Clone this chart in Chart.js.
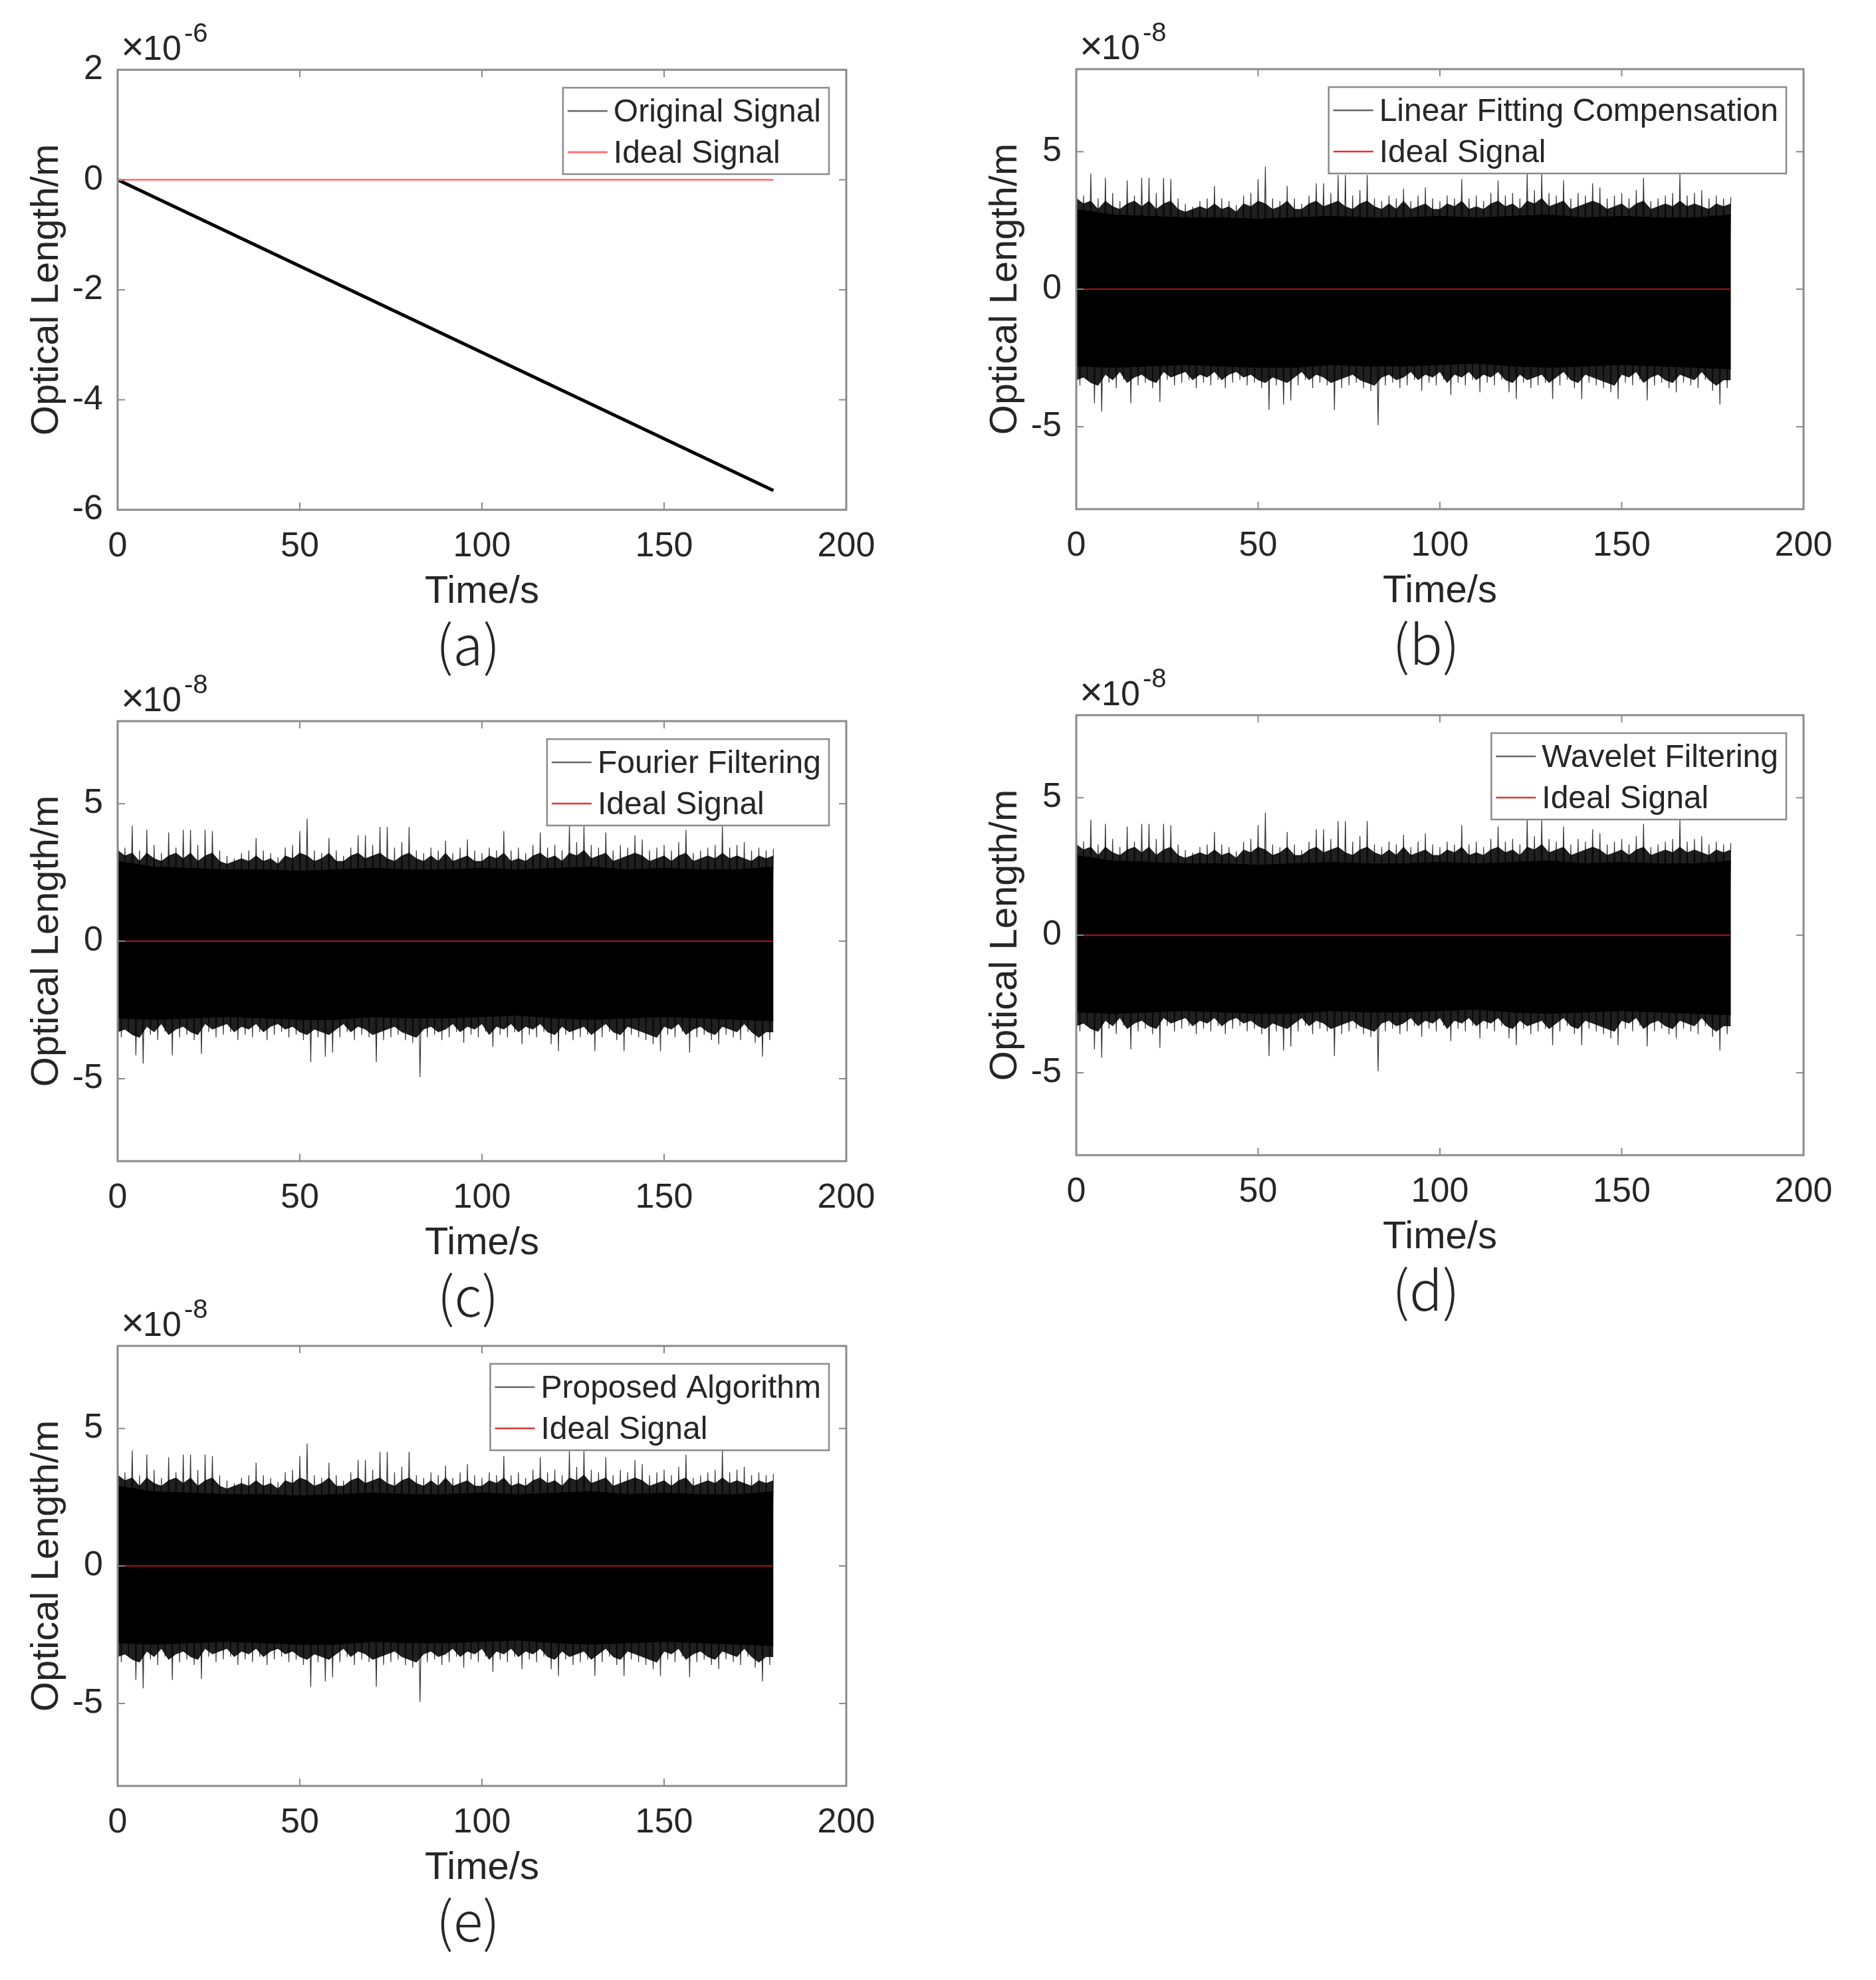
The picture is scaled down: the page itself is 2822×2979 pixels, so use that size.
<!DOCTYPE html>
<html>
<head>
<meta charset="utf-8">
<title>Optical length compensation</title>
<script src="https://cdn.jsdelivr.net/npm/chart.js@4.4.0/dist/chart.umd.min.js"></script>
<style>
  html, body { margin: 0; padding: 0; background: #fff; }
  #page { position: relative; width: 2822px; height: 2979px; overflow: hidden; background: #fff; }
  .cell { position: absolute; }
  .cell canvas { display: block; }
</style>
</head>
<body>
<div id="page"></div>
<script>
// ---- data ----
const timeTicks = [0, 50, 100, 150, 200];
const ticksOriginal = [-6, -4, -2, 0, 2];   // x1e-6 m
const ticksNoise = [-5, 0, 5];               // x1e-8 m

const panelLetters = ["(a)", "(b)", "(c)", "(d)", "(e)"];
const methodNames = [
  "Original Signal",
  "Linear Fitting Compensation",
  "Fourier Filtering",
  "Wavelet Filtering",
  "Proposed Algorithm",
];
const idealName = "Ideal Signal";
const exponents = ["-6", "-8", "-8", "-8", "-8"];

// (a) drift of the raw signal, x1e-6 m
const originalTime = [0, 180];
const originalValue = [0, -5.65];
const idealTime = [0, 180];
const idealValue = [0, 0];

// residual noise, x1e-8 m (same in b..e)
// upper extremes at even seconds 0..180
const noisePeaks = [
  4.2, 3.4, 4.2, 3.3, 4.05, 3.5, 3.2, 3.95, 3.4, 4.05,
  4.05, 3.5, 4.05, 4.0, 3.3, 3.1, 3.0, 3.2, 3.3, 3.75,
  3.3, 3.2, 3.05, 3.4, 3.5, 4.0, 4.45, 3.3, 3.2, 3.75,
  3.3, 3.1, 3.4, 3.85, 3.85, 3.5, 4.15, 4.15, 3.4, 3.6,
  4.15, 3.3, 3.2, 3.4, 3.3, 3.65, 3.2, 3.4, 3.7, 3.3,
  3.2, 3.4, 3.3, 4.0, 3.3, 3.4, 3.2, 3.5, 3.95, 3.4,
  3.5, 3.3, 4.2, 3.6, 4.2, 3.5, 3.4, 3.95, 3.3, 3.5,
  3.4, 3.85, 3.7, 3.3, 3.4, 3.5, 3.3, 3.6, 4.05, 3.2,
  3.3, 3.4, 3.5, 4.2, 3.4, 3.5, 3.6, 3.3, 3.4, 3.3,
  3.35,
];
// lower extremes at odd seconds 1..179
const noiseTroughs = [
  -3.5, -3.3, -4.15, -4.45, -3.4, -3.6, -3.3, -4.15, -3.5, -3.4,
  -3.6, -4.1, -3.3, -3.5, -3.4, -3.3, -3.6, -3.4, -3.5, -3.3,
  -3.6, -3.4, -3.3, -3.5, -3.4, -3.6, -4.4, -3.5, -4.2, -4.05,
  -3.5, -3.3, -3.6, -3.4, -3.5, -4.4, -3.6, -3.5, -3.4, -3.6,
  -3.7, -4.95, -3.5, -3.4, -3.6, -3.5, -3.3, -3.7, -3.4, -3.5,
  -3.3, -3.85, -3.4, -3.5, -3.3, -3.75, -3.4, -3.5, -3.3, -3.75,
  -4.0, -3.4, -3.6, -3.5, -3.4, -4.0, -3.5, -3.3, -3.6, -4.0,
  -3.4, -3.5, -3.6, -3.75, -4.0, -3.4, -3.5, -3.3, -4.05, -3.5,
  -3.4, -3.6, -3.75, -3.4, -3.5, -3.6, -3.3, -3.7, -4.2, -3.6,
];
// dense fringe of the band, even seconds 0..180
const fringeTop = [
  3.3, 3.1, 3.2, 2.9, 3.2, 3.0, 2.9, 3.1, 3.2, 3.0,
  3.2, 2.9, 3.1, 3.2, 2.9, 2.8, 2.9, 3.0, 2.9, 3.1,
  2.9, 3.0, 2.8, 3.1, 3.0, 3.2, 3.1, 2.9, 3.0, 3.2,
  2.9, 2.9, 3.1, 3.2, 3.0, 3.1, 3.2, 3.0, 2.9, 3.1,
  3.2, 3.0, 2.9, 3.1, 2.9, 3.2, 2.9, 3.0, 3.1, 2.9,
  2.9, 3.1, 3.0, 3.2, 2.9, 3.0, 2.9, 3.1, 3.2, 3.0,
  3.1, 2.9, 3.2, 3.1, 3.3, 3.0, 3.1, 3.2, 2.9, 3.0,
  3.1, 3.2, 3.1, 2.9, 3.0, 3.1, 2.9, 3.1, 3.2, 2.9,
  3.0, 3.1, 3.0, 3.2, 3.0, 3.1, 3.0, 2.9, 3.1, 3.0,
  3.1,
];
const fringeBottom = [
  -3.3, -3.2, -3.4, -3.5, -3.1, -3.3, -3.0, -3.4, -3.2, -3.1,
  -3.3, -3.4, -3.0, -3.2, -3.1, -3.0, -3.3, -3.1, -3.2, -3.0,
  -3.3, -3.1, -3.0, -3.2, -3.1, -3.3, -3.4, -3.2, -3.3, -3.4,
  -3.2, -3.0, -3.3, -3.1, -3.2, -3.4, -3.3, -3.2, -3.1, -3.3,
  -3.4, -3.5, -3.2, -3.1, -3.3, -3.2, -3.0, -3.3, -3.1, -3.2,
  -3.0, -3.4, -3.1, -3.2, -3.0, -3.3, -3.1, -3.2, -3.0, -3.3,
  -3.4, -3.1, -3.3, -3.2, -3.1, -3.4, -3.2, -3.0, -3.3, -3.4,
  -3.1, -3.2, -3.3, -3.4, -3.5, -3.1, -3.2, -3.0, -3.4, -3.2,
  -3.1, -3.3, -3.4, -3.1, -3.2, -3.3, -3.0, -3.3, -3.5, -3.3,
  -3.3,
];
// solid black core of the noise band
const coreTime = [0, 10, 20, 30, 40, 50, 60, 70, 80, 90, 100, 110, 120, 130, 140, 150, 160, 170, 180];
const coreTop = [2.9, 2.7, 2.65, 2.6, 2.6, 2.55, 2.6, 2.65, 2.6, 2.6, 2.65, 2.6, 2.65, 2.7, 2.6, 2.65, 2.6, 2.6, 2.7];
const coreBottom = [-2.8, -2.85, -2.8, -2.75, -2.8, -2.85, -2.85, -2.75, -2.8, -2.8, -2.75, -2.7, -2.8, -2.85, -2.8, -2.75, -2.8, -2.85, -2.9];

// ---- layout ----
const FONT = '"Liberation Sans", Arial, Helvetica, sans-serif';
const LABEL_FONT = '"Noto Sans CJK SC", "Noto Sans", sans-serif';
const TEXT = "#262626";
const AXIS_GRAY = "#8a8a8a";
const Y_AXIS_W = 150;
const X_AXIS_H = 159;
const TICK_LEN = 11;

const panels = [
  { plot: { l: 177, t: 105, r: 1273, b: 767 }, cell: { x: 0, y: 0, w: 1411, h: 1030 } },
  { plot: { l: 1619, t: 104, r: 2713, b: 766 }, cell: { x: 1411, y: 0, w: 1411, h: 1030 } },
  { plot: { l: 177, t: 1085, r: 1273, b: 1747 }, cell: { x: 0, y: 990, w: 1411, h: 1010 } },
  { plot: { l: 1619, t: 1076, r: 2713, b: 1738 }, cell: { x: 1411, y: 990, w: 1411, h: 1010 } },
  { plot: { l: 177, t: 2025, r: 1273, b: 2687 }, cell: { x: 0, y: 1940, w: 1411, h: 1039 } },
];

function pairs(xs, ys) {
  return xs.map((x, i) => ({ x: x, y: ys[i] }));
}

// the fringe arrays are sampled every 2 s
function evenSeconds(ys) {
  return ys.map((y, i) => ({ x: 2 * i, y: y }));
}

// zig-zag through the read extremes, peak at 2i, trough at 2i+1
function noiseTrace() {
  const pts = [];
  noisePeaks.forEach((v, i) => {
    pts.push({ x: 2 * i, y: v });
    if (i < noiseTroughs.length) pts.push({ x: 2 * i + 1, y: noiseTroughs[i] });
  });
  return pts;
}

// box with inward ticks on all sides, like matlab
const matlabBox = {
  id: "matlabBox",
  afterDatasetsDraw(chart) {
    const { ctx, chartArea: a, scales } = chart;
    ctx.save();
    ctx.strokeStyle = AXIS_GRAY;
    ctx.lineWidth = 2;
    ctx.beginPath();
    scales.x.ticks.forEach((t) => {
      const px = scales.x.getPixelForValue(t.value);
      ctx.moveTo(px, a.bottom);
      ctx.lineTo(px, a.bottom - TICK_LEN);
      ctx.moveTo(px, a.top);
      ctx.lineTo(px, a.top + TICK_LEN);
    });
    scales.y.ticks.forEach((t) => {
      const py = scales.y.getPixelForValue(t.value);
      ctx.moveTo(a.left, py);
      ctx.lineTo(a.left + TICK_LEN, py);
      ctx.moveTo(a.right, py);
      ctx.lineTo(a.right - TICK_LEN, py);
    });
    ctx.stroke();
    ctx.lineWidth = 3;
    ctx.strokeRect(a.left, a.top, a.right - a.left, a.bottom - a.top);
    ctx.restore();
  },
};

// legend in a box at the top right of the axes
const boxLegend = {
  id: "boxLegend",
  afterDraw(chart, args, opts) {
    const { ctx, chartArea: a } = chart;
    ctx.save();
    ctx.font = "48px " + FONT;
    const textW = Math.max(...opts.items.map((it) => ctx.measureText(it.text).width));
    const w = 76 + textW + 12;
    const h = 130;
    const right = a.right - 26;
    const top = a.top + 27;
    const left = right - w;
    ctx.fillStyle = "#fff";
    ctx.fillRect(left, top, w, h);
    ctx.strokeStyle = AXIS_GRAY;
    ctx.lineWidth = 2.5;
    ctx.strokeRect(left, top, w, h);
    opts.items.forEach((it, i) => {
      const cy = top + 35 + i * 62;
      ctx.strokeStyle = it.color;
      ctx.lineWidth = it.width;
      ctx.beginPath();
      ctx.moveTo(left + 7, cy);
      ctx.lineTo(left + 67, cy);
      ctx.stroke();
      ctx.fillStyle = TEXT;
      ctx.textAlign = "left";
      ctx.textBaseline = "middle";
      ctx.fillText(it.text, left + 76, cy + 3);
    });
    ctx.restore();
  },
};

// x10^n exponent and the (a)..(e) caption
const panelText = {
  id: "panelText",
  afterDraw(chart, args, opts) {
    const { ctx, chartArea: a } = chart;
    ctx.save();
    ctx.fillStyle = TEXT;
    ctx.textAlign = "left";
    ctx.textBaseline = "alphabetic";
    const x0 = a.left + 5;
    ctx.font = "60px " + FONT;
    ctx.fillText("\u00d7", x0, a.top - 15);
    const wx = ctx.measureText("\u00d7").width;
    ctx.font = "52px " + FONT;
    ctx.fillText("10", x0 + wx - 2, a.top - 15);
    const w = wx - 2 + ctx.measureText("10").width;
    ctx.font = "40px " + FONT;
    ctx.fillText(opts.exponent, x0 + w + 4, a.top - 42);
    ctx.font = "300 82px " + LABEL_FONT;
    ctx.textAlign = "center";
    ctx.textBaseline = "middle";
    ctx.fillText(opts.letter, (a.left + a.right) / 2 - 21, a.bottom + 203);
    ctx.restore();
  },
};

function makeChart(index) {
  const p = panels[index];
  const isOriginal = index === 0;
  const page = document.getElementById("page");
  const cell = document.createElement("div");
  cell.className = "cell";
  cell.style.left = p.cell.x + "px";
  cell.style.top = p.cell.y + "px";
  cell.style.width = p.cell.w + "px";
  cell.style.height = p.cell.h + "px";
  const canvas = document.createElement("canvas");
  canvas.width = p.cell.w;
  canvas.height = p.cell.h;
  canvas.style.width = p.cell.w + "px";
  canvas.style.height = p.cell.h + "px";
  cell.appendChild(canvas);
  page.appendChild(cell);

  let datasets;
  let legendItems;
  if (isOriginal) {
    datasets = [
      { label: idealName, data: pairs(idealTime, idealValue), borderColor: "#ff8080", borderWidth: 3 },
      { label: methodNames[0], data: pairs(originalTime, originalValue), borderColor: "#000", borderWidth: 5 },
    ];
    legendItems = [
      { text: methodNames[0], color: "#666", width: 2.5 },
      { text: idealName, color: "#ff7070", width: 3 },
    ];
  } else {
    datasets = [
      { label: idealName, data: pairs(idealTime, idealValue), borderColor: "#a81414", borderWidth: 2 },
      { label: methodNames[index], data: noiseTrace(), borderColor: "rgba(0,0,0,0.8)", borderWidth: 1.2 },
      { label: "core top", data: pairs(coreTime, coreTop), borderColor: "#000", borderWidth: 1, fill: "+1", backgroundColor: "#000" },
      { label: "core bottom", data: pairs(coreTime, coreBottom), borderColor: "#000", borderWidth: 1 },
      { label: "fringe top", data: evenSeconds(fringeTop), borderColor: "rgba(0,0,0,0.85)", borderWidth: 1, fill: "+1", backgroundColor: "rgba(8,8,8,0.9)" },
      { label: "fringe bottom", data: evenSeconds(fringeBottom), borderColor: "rgba(0,0,0,0.85)", borderWidth: 1 },
    ];
    legendItems = [
      { text: methodNames[index], color: "#666", width: 2.5 },
      { text: idealName, color: "#e83030", width: 2.5 },
    ];
  }
  datasets.forEach((d) => {
    d.pointRadius = 0;
    d.tension = 0;
    if (d.fill === undefined) d.fill = false;
  });

  const yTicks = isOriginal ? ticksOriginal : ticksNoise;
  const yMin = isOriginal ? -6 : -8;
  const yMax = isOriginal ? 2 : 8;

  new Chart(canvas.getContext("2d"), {
    type: "line",
    data: { datasets: datasets },
    options: {
      responsive: false,
      devicePixelRatio: 1,
      animation: false,
      events: [],
      layout: {
        padding: {
          left: p.plot.l - p.cell.x - Y_AXIS_W,
          top: p.plot.t - p.cell.y,
          right: p.cell.x + p.cell.w - p.plot.r,
          bottom: p.cell.y + p.cell.h - p.plot.b - X_AXIS_H,
        },
      },
      scales: {
        x: {
          type: "linear",
          min: 0,
          max: 200,
          afterBuildTicks: (s) => { s.ticks = timeTicks.map((v) => ({ value: v })); },
          afterFit: (s) => { s.height = X_AXIS_H; },
          grid: { display: false, drawTicks: false },
          border: { display: false },
          ticks: {
            color: TEXT,
            font: { family: FONT, size: 52 },
            padding: 24,
            autoSkip: false,
            maxRotation: 0,
            callback: (v) => String(v),
          },
          title: {
            display: true,
            text: "Time/s",
            color: TEXT,
            font: { family: FONT, size: 58 },
            padding: { top: 0, bottom: 0 },
          },
        },
        y: {
          type: "linear",
          min: yMin,
          max: yMax,
          afterBuildTicks: (s) => { s.ticks = yTicks.map((v) => ({ value: v })); },
          afterFit: (s) => { s.width = Y_AXIS_W; },
          grid: { display: false, drawTicks: false },
          border: { display: false },
          ticks: {
            color: TEXT,
            font: { family: FONT, size: 52 },
            padding: 22,
            callback: (v) => String(v),
          },
          title: {
            display: true,
            text: "Optical Length/m",
            color: TEXT,
            font: { family: FONT, size: 58 },
            padding: { top: 9, bottom: 0 },
          },
        },
      },
      plugins: {
        legend: { display: false },
        tooltip: { enabled: false },
        boxLegend: { items: legendItems },
        panelText: { exponent: exponents[index], letter: panelLetters[index] },
      },
    },
    plugins: [matlabBox, boxLegend, panelText],
  });
}

for (let i = 0; i < panels.length; i++) {
  makeChart(i);
}
</script>
</body>
</html>
